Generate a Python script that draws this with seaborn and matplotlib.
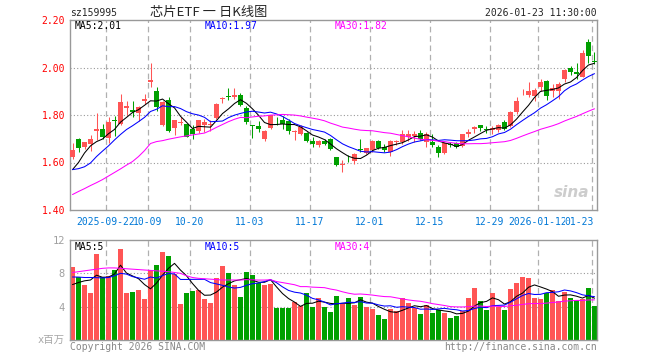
import numpy as np
import pandas as pd
import seaborn as sns
import matplotlib.pyplot as plt
import matplotlib.transforms as mtransforms

# daily candles, 2025-09-12 .. 2026-01-23 (88 trading days)
open_ = [1.622, 1.701, 1.664, 1.676, 1.731, 1.742, 1.703, 1.779, 1.764, 1.831,
         1.822, 1.808, 1.861, 1.941, 1.900, 1.757, 1.864, 1.747, 1.768, 1.761,
         1.739, 1.733, 1.760, 1.758, 1.788, 1.866, 1.880, 1.875, 1.885, 1.831,
         1.756, 1.754, 1.701, 1.746, 1.775, 1.778, 1.774, 1.728, 1.722, 1.726,
         1.690, 1.674, 1.690, 1.701, 1.622, 1.591, 1.615, 1.608, 1.653, 1.639,
         1.653, 1.690, 1.667, 1.646, 1.688, 1.685, 1.708, 1.710, 1.726, 1.685,
         1.688, 1.667, 1.639, 1.675, 1.681, 1.671, 1.718, 1.739, 1.756, 1.743,
         1.736, 1.736, 1.771, 1.754, 1.813, 1.891, 1.885, 1.882, 1.917, 1.944,
         1.899, 1.903, 1.951, 1.997, 1.982, 1.962, 2.108, 2.028]
high = [1.681, 1.705, 1.686, 1.715, 1.808, 1.764, 1.792, 1.794, 1.889, 1.858,
        1.861, 1.836, 1.889, 2.021, 1.917, 1.861, 1.875, 1.781, 1.792, 1.764,
        1.760, 1.781, 1.783, 1.778, 1.850, 1.875, 1.914, 1.914, 1.892, 1.840,
        1.757, 1.774, 1.736, 1.800, 1.792, 1.796, 1.785, 1.736, 1.757, 1.729,
        1.708, 1.694, 1.700, 1.704, 1.625, 1.611, 1.632, 1.639, 1.697, 1.663,
        1.694, 1.694, 1.676, 1.694, 1.694, 1.736, 1.736, 1.732, 1.736, 1.729,
        1.718, 1.674, 1.688, 1.688, 1.688, 1.722, 1.743, 1.753, 1.760, 1.754,
        1.753, 1.764, 1.778, 1.815, 1.875, 1.910, 1.940, 1.913, 1.951, 1.949,
        1.931, 1.938, 1.993, 2.007, 2.018, 2.074, 2.121, 2.065]
low = [1.614, 1.643, 1.656, 1.647, 1.694, 1.697, 1.683, 1.711, 1.757, 1.799,
       1.792, 1.774, 1.847, 1.917, 1.817, 1.753, 1.729, 1.715, 1.757, 1.706,
       1.700, 1.725, 1.729, 1.733, 1.785, 1.850, 1.865, 1.868, 1.840, 1.764,
       1.704, 1.729, 1.690, 1.743, 1.757, 1.743, 1.722, 1.694, 1.715, 1.687,
       1.667, 1.667, 1.674, 1.653, 1.587, 1.562, 1.604, 1.593, 1.646, 1.635,
       1.646, 1.657, 1.646, 1.629, 1.674, 1.680, 1.690, 1.685, 1.694, 1.667,
       1.667, 1.625, 1.635, 1.667, 1.660, 1.667, 1.708, 1.726, 1.732, 1.726,
       1.718, 1.729, 1.736, 1.750, 1.806, 1.885, 1.875, 1.861, 1.903, 1.865,
       1.875, 1.868, 1.938, 1.968, 1.951, 1.958, 2.021, 2.014]
close = [1.653, 1.660, 1.686, 1.701, 1.739, 1.708, 1.772, 1.776, 1.854, 1.839,
         1.811, 1.832, 1.868, 1.949, 1.833, 1.854, 1.733, 1.781, 1.772, 1.708,
         1.722, 1.778, 1.772, 1.764, 1.847, 1.869, 1.877, 1.885, 1.844, 1.770,
         1.753, 1.743, 1.732, 1.799, 1.773, 1.764, 1.732, 1.731, 1.750, 1.690,
         1.676, 1.690, 1.676, 1.657, 1.590, 1.594, 1.613, 1.635, 1.652, 1.660,
         1.690, 1.663, 1.653, 1.690, 1.690, 1.722, 1.722, 1.722, 1.699, 1.718,
         1.674, 1.639, 1.681, 1.674, 1.667, 1.718, 1.729, 1.750, 1.746, 1.736,
         1.746, 1.757, 1.740, 1.813, 1.857, 1.894, 1.899, 1.907, 1.940, 1.879,
         1.913, 1.931, 1.989, 1.983, 1.972, 2.060, 2.049, 2.025]
# volume, millions
volume = [8.76, 7.52, 6.60, 5.64, 10.36, 7.52, 7.64, 8.44, 10.92, 5.64,
          5.80, 6.00, 4.92, 8.36, 9.04, 10.56, 10.12, 7.90, 4.32, 5.64,
          5.92, 6.04, 4.92, 4.44, 7.44, 8.88, 8.08, 6.64, 5.16, 8.16,
          7.84, 6.84, 6.64, 6.72, 3.84, 3.84, 3.84, 4.52, 4.12, 5.64,
          3.96, 5.04, 3.96, 3.36, 5.32, 4.36, 5.04, 4.24, 5.16, 3.92,
          3.76, 3.00, 2.56, 3.72, 3.52, 5.04, 4.44, 3.84, 3.12, 4.20,
          3.24, 3.64, 3.24, 2.64, 2.92, 3.52, 5.04, 6.24, 4.72, 3.64,
          5.64, 3.92, 3.64, 6.12, 6.88, 7.56, 7.44, 5.04, 4.92, 5.60,
          6.04, 4.64, 5.76, 5.04, 4.80, 4.92, 6.24, 4.08]

# moving-average values for the first days
# (their earlier window lies outside the picture)
ma5_head = [1.570, 1.600, 1.640, 1.670]
ma10_head = [1.570, 1.574, 1.582, 1.598, 1.625, 1.648, 1.670, 1.695, 1.718]
ma30_head = [1.465, 1.478, 1.490, 1.503, 1.515, 1.528, 1.543, 1.558, 1.573, 1.589,
             1.604, 1.625, 1.650, 1.680, 1.688, 1.692, 1.698, 1.703, 1.708, 1.712,
             1.716, 1.720, 1.724, 1.735, 1.748, 1.760, 1.772, 1.782, 1.790]
vma5_head = [6.65, 6.90, 7.10, 7.20]
vma10_head = [7.56, 7.55, 7.50, 7.50, 7.48, 7.45, 7.50, 7.70, 8.00]
vma30_head = [8.10, 8.20, 8.30, 8.40, 8.50, 8.60, 8.65, 8.65, 8.60, 8.55,
              8.50, 8.45, 8.40, 8.35, 8.30, 8.25, 8.20, 8.10, 8.00, 7.70,
              7.50, 7.40, 7.35, 7.30, 7.25, 7.20, 7.20, 7.20, 7.20]

tick_pos = [6, 13, 20, 30, 40, 50, 60, 70, 78, 87]
tick_labels = ["2025-09-22", "10-09", "10-20", "11-03", "11-17",
               "12-01", "12-15", "12-29", "2026-01-12", "01-23"]

RED = "#ff5555"
GREEN = "#00a000"
GRID = "#b0b0b0"
SPINE = "#999999"
LW = 0.75

df = pd.DataFrame({"open": open_, "high": high, "low": low,
                   "close": close, "vol": volume})
df["i"] = np.arange(len(df))
df["dir"] = np.where(df["close"] >= df["open"], "up", "down")


def moving(series, n, head):
    ma = series.rolling(n).mean()
    ma.iloc[:len(head)] = head
    return ma


sns.set_style("white")
plt.rcParams["font.family"] = ["DejaVu Sans Mono", "Noto Sans CJK SC"]
plt.rcParams["font.size"] = 7

W, H = 660, 360
fig = plt.figure(figsize=(W / 100, H / 100), dpi=100)
ax = fig.add_axes([70 / W, 1 - 210 / H, 527 / W, 190 / H])
axv = fig.add_axes([70 / W, 1 - 340 / H, 527 / W, 100 / H])

x0, x1 = -2.5 / 6, 87 + 2.5 / 6
grid_x = [p - 2.5 / 6 for p in tick_pos]

# ---- price panel
for y in [1.6, 1.8, 2.0]:
    ax.axhline(y, color=SPINE, lw=0.8, ls=(0, (1, 2)), zorder=0)
for gx in grid_x:
    ax.axvline(gx, color=GRID, lw=0.9, ls=(0, (4.5, 3)), zorder=0)
    axv.axvline(gx, color=GRID, lw=0.9, ls=(0, (4.5, 3)), zorder=0)

colors = np.where(df["dir"] == "up", RED, GREEN)
ax.vlines(df["i"], df["low"], df["high"], colors=colors, lw=LW, zorder=2)
body_lo = np.minimum(df["open"], df["close"])
body_h = np.maximum((df["close"] - df["open"]).abs(), 0.0035)
ax.bar(df["i"], body_h, bottom=body_lo, width=0.83, color=colors,
       linewidth=0, zorder=3)

sns.lineplot(x=df["i"], y=moving(df["close"], 5, ma5_head), color="black",
             lw=LW, ax=ax, zorder=4)
sns.lineplot(x=df["i"], y=moving(df["close"], 10, ma10_head), color="#0000ff",
             lw=LW, ax=ax, zorder=4)
sns.lineplot(x=df["i"], y=moving(df["close"], 30, ma30_head), color="#ff00ff",
             lw=LW, ax=ax, zorder=4)

ax.set_xlim(x0, x1)
ax.set_ylim(1.40, 2.20)
ax.set_yticks([1.4, 1.6, 1.8, 2.0, 2.2])
ax.set_yticklabels(["%.2f" % v for v in [1.4, 1.6, 1.8, 2.0, 2.2]],
                   color="#ff0000", fontsize=7)
ax.set_xticks(grid_x)
ax.set_xticklabels([])
ax.tick_params(axis="y", length=0, pad=3.6)
ax.tick_params(axis="x", length=1.5, color=SPINE, direction="out")
ax.set_xlabel("")
ax.set_ylabel("")

trans = mtransforms.blended_transform_factory(ax.transData, ax.transAxes)
for k, (gx, lab) in enumerate(zip(grid_x, tick_labels)):
    if k == len(tick_labels) - 1:
        ax.text(87 - 0.1, -12 / 190, lab, transform=trans, ha="right",
                va="center", color="#0078d7", fontsize=7,
                bbox=dict(facecolor="white", edgecolor="none", pad=0))
    else:
        ax.text(gx, -12 / 190, lab, transform=trans, ha="center",
                va="center", color="#0078d7", fontsize=7)

# sina watermark
ax.text(0.985, 0.09, "sina", transform=ax.transAxes, ha="right", va="center",
        fontsize=11, fontweight="bold", style="italic", color="#cdcdcd",
        family="DejaVu Sans", zorder=1)

# ---- volume panel
for y in [4, 8]:
    axv.axhline(y, color=SPINE, lw=0.8, ls=(0, (1, 2)), zorder=0)

sns.barplot(data=df, x="i", y="vol", hue="dir",
            palette={"up": RED, "down": GREEN}, native_scale=True,
            dodge=False, width=0.83, saturation=1, linewidth=0,
            errorbar=None, legend=False, ax=axv, zorder=2)
sns.lineplot(x=df["i"], y=moving(df["vol"], 5, vma5_head), color="black",
             lw=LW, ax=axv, zorder=4)
sns.lineplot(x=df["i"], y=moving(df["vol"], 10, vma10_head), color="#0000ff",
             lw=LW, ax=axv, zorder=4)
sns.lineplot(x=df["i"], y=moving(df["vol"], 30, vma30_head), color="#ff00ff",
             lw=LW, ax=axv, zorder=4)

axv.set_xlim(x0, x1)
axv.set_ylim(0, 12)
axv.set_yticks([4, 8, 12])
axv.set_yticklabels(["4", "8", "12"], color="#a0a0a0", fontsize=7.5)
axv.set_xticks([])
axv.tick_params(axis="y", length=0, pad=3.6)
axv.set_xlabel("")
axv.set_ylabel("")

for a in (ax, axv):
    for s in a.spines.values():
        s.set_color(SPINE)
        s.set_linewidth(1.0)


def pos(x, y):
    return x / W, 1 - y / H


fig.text(*pos(70, 13.5), "sz159995", ha="left", va="center", fontsize=7)
fig.text(*pos(209, 12.5), "芯片ETF 一 日K线图", ha="center", va="center",
         fontsize=9.5, family=["Noto Sans CJK SC", "DejaVu Sans"])
fig.text(*pos(597, 13.5), "2026-01-23 11:30:00", ha="right", va="center",
         fontsize=7)

fig.text(*pos(75, 26), "MA5:2.01", color="black", va="center", fontsize=7)
fig.text(*pos(205, 26), "MA10:1.97", color="#0000ff", va="center", fontsize=7)
fig.text(*pos(335, 26), "MA30:1.82", color="#ff00ff", va="center", fontsize=7)
fig.text(*pos(75, 246.5), "MA5:5", color="black", va="center", fontsize=7)
fig.text(*pos(205, 246.5), "MA10:5", color="#0000ff", va="center", fontsize=7)
fig.text(*pos(335, 246.5), "MA30:4", color="#ff00ff", va="center", fontsize=7)

fig.text(*pos(65, 340), "x百万", ha="right", va="center", color="#a8a8a8",
         fontsize=7.5)
fig.text(*pos(70, 346.5), "Copyright 2026 SINA.COM", ha="left", va="center",
         color="#888888", fontsize=7)
fig.text(*pos(597, 346.5), "http://finance.sina.com.cn", ha="right",
         va="center", color="#888888", fontsize=7)

fig.savefig("out.png", dpi=100, facecolor="white")
plt.close(fig)
